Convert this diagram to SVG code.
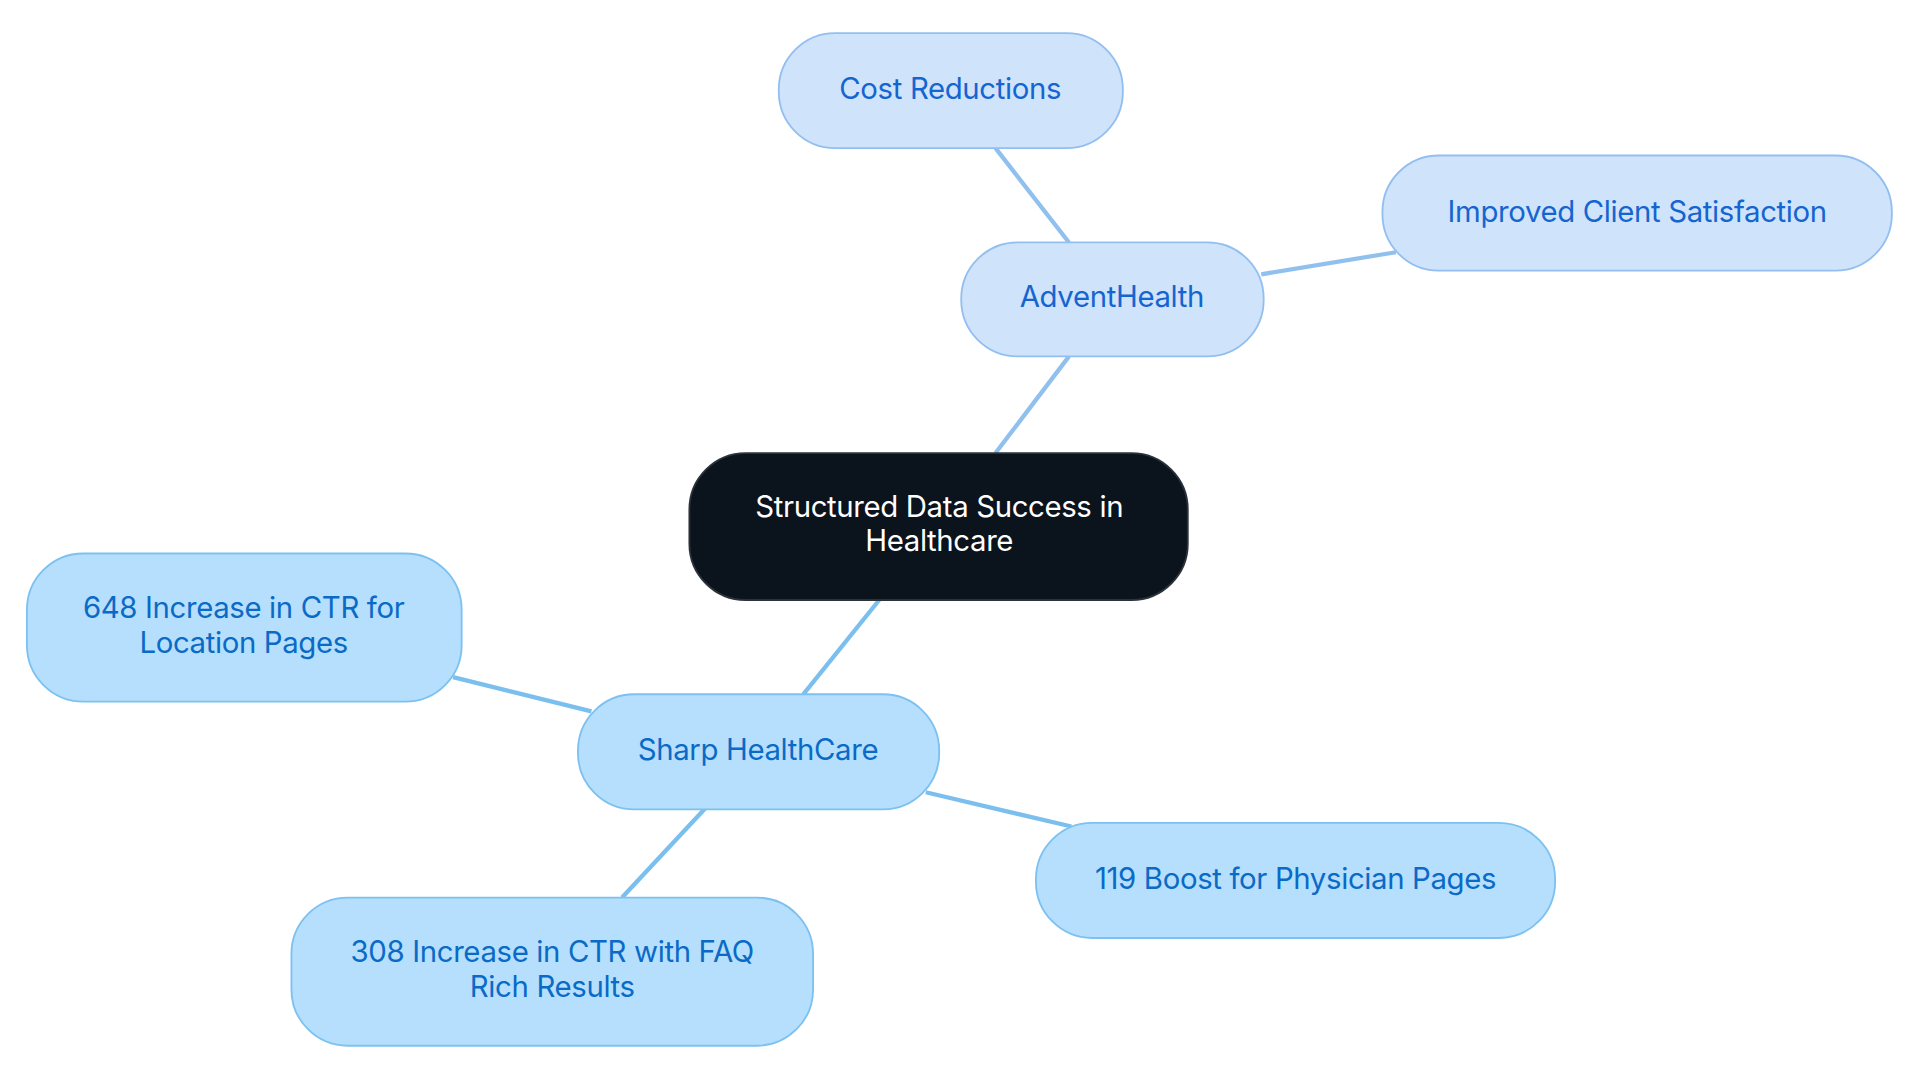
<svg xmlns="http://www.w3.org/2000/svg" width="1920" height="1083" viewBox="0 0 1920 1083">
<style>
text{font-family:Inter,"Noto Sans","Liberation Sans",sans-serif;font-size:24px;text-anchor:middle;letter-spacing:-0.3px}
.a rect{fill:#cfe3fb;stroke:#93bff0;stroke-width:1.5}
.a text{fill:#1565d0}
.b rect{fill:#b5dffd;stroke:#7dc1f0;stroke-width:1.5}
.b text{fill:#0a6ac6}
.la{stroke:#90c0ee;stroke-width:3.5}
.lb{stroke:#7bbfef;stroke-width:3.5}
</style>
<rect width="1920" height="1083" fill="#fff"/>
<g transform="scale(1.2245)">
<g id="connectors">
<line class="la" x1="813" y1="370" x2="873" y2="291"/>
<line class="la" x1="873" y1="198" x2="813" y2="121"/>
<line class="la" x1="1030" y1="224" x2="1140" y2="206"/>
<line class="lb" x1="718" y1="490" x2="656" y2="567"/>
<line class="lb" x1="483" y1="581" x2="370" y2="553"/>
<line class="lb" x1="576" y1="660" x2="508" y2="733"/>
<line class="lb" x1="756" y1="647" x2="875" y2="675"/>
</g>
<g id="center"><rect x="563" y="370" width="407" height="120" rx="46" fill="#0b131c" stroke="#2b323a" stroke-width="1.5"/>
<text x="767" y="422" fill="#fff">Structured Data Success in</text><text x="767" y="450" fill="#fff">Healthcare</text></g>
<g id="cost" class="a"><rect x="636" y="27" width="281" height="94" rx="46"/><text x="776" y="81">Cost Reductions</text></g>
<g id="advent" class="a"><rect x="785" y="198" width="247" height="93" rx="46"/><text x="908" y="251">AdventHealth</text></g>
<g id="improved" class="a"><rect x="1129" y="127" width="416" height="94" rx="46"/><text x="1337" y="181">Improved Client Satisfaction</text></g>
<g id="sharp" class="b"><rect x="472" y="567" width="295" height="94" rx="46"/><text x="619" y="621">Sharp HealthCare</text></g>
<g id="n648" class="b"><rect x="22" y="452" width="355" height="121" rx="46"/><text x="199" y="505">648 Increase in CTR for</text><text x="199" y="533">Location Pages</text></g>
<g id="n308" class="b"><rect x="238" y="733" width="426" height="121" rx="46"/><text x="451" y="786">308 Increase in CTR with FAQ</text><text x="451" y="814">Rich Results</text></g>
<g id="n119" class="b"><rect x="846" y="672" width="424" height="94" rx="46"/><text x="1058" y="726">119 Boost for Physician Pages</text></g>
</g>
</svg>
